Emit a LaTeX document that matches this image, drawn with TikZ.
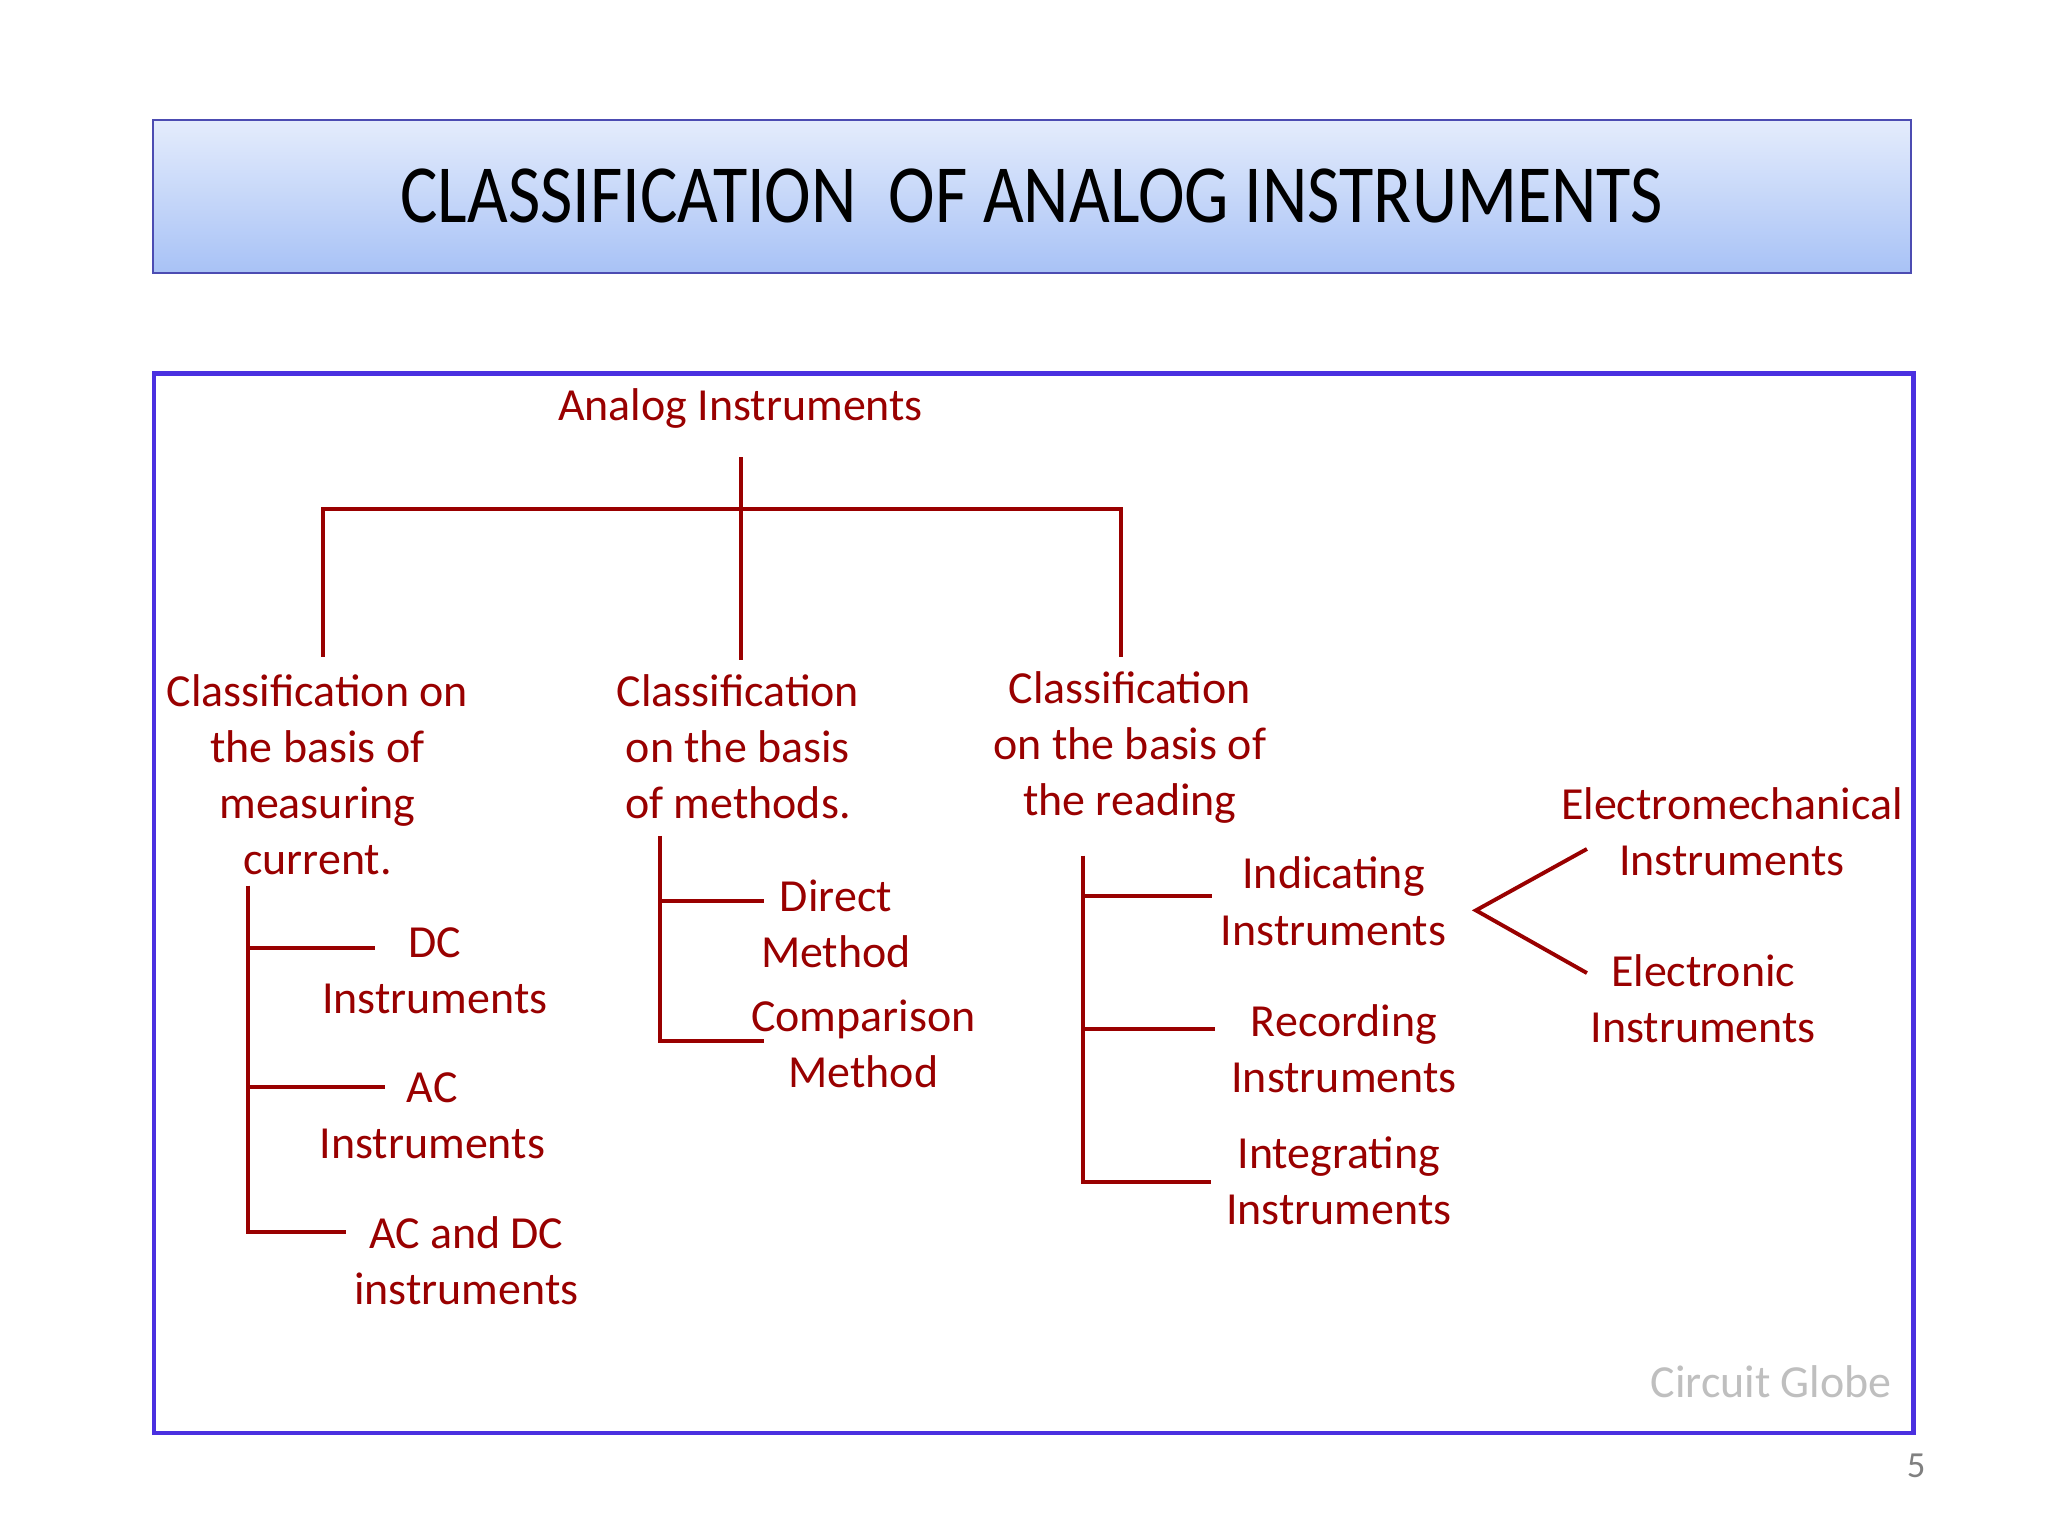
\documentclass[tikz,border=0pt]{standalone}
\usepackage{fontspec}
\setmainfont{Carlito}
\definecolor{tb}{HTML}{A8C2F6}
\definecolor{tt}{HTML}{E4ECFC}
\definecolor{fr}{HTML}{4A30E0}
\begin{document}
\begin{tikzpicture}[x=0.01cm,y=-0.01cm,
  ln/.style={draw=red!60!black, line width=0.85pt},
  lb/.style={text=red!60!black, font=\fontsize{10}{12.2}\selectfont, align=center, inner sep=1pt}]
\useasboundingbox (0,0) rectangle (1568,1176);
\fill[white] (0,0) rectangle (1568,1176);
\shade[top color=tt, bottom color=tb] (117,92) rectangle (1463,209);
\draw[blue!40!gray, line width=0.5pt] (117,92) rectangle (1463,209);
\node[xscale=0.85] (title) at (790,150) {\fontsize{18}{20}\selectfont CLASSIFICATION\ \ OF ANALOG INSTRUMENTS};
\draw[fr, line width=0.9pt] (118,286) rectangle (1465,1097);
% root
\node[lb] (root) at (567,313) {Analog Instruments};
\coordinate (j) at (567,390);
\node[lb] (c1) at (243,593) {Classification on\\the basis of\\measuring\\current.};
\node[lb] (c2) at (565,572) {Classification\\on the basis\\of methods.};
\node[lb] (c3) at (865,572) {Classification\\on the basis of\\the reading};
\draw[ln] (567,350) -- (j);
\draw[ln] (247,503) |- (858,390) -- (858,503);
\draw[ln] (j) -- (567,505);
% col1
\node[lb] (dc) at (333,743) {DC\\Instruments};
\node[lb] (ac) at (331,854) {AC\\Instruments};
\node[lb] (acdc) at (357,965) {AC and DC\\instruments};
\draw[ln] (190,678) -- (190,943) -- (265,943);
\draw[ln] (190,726) -- (287,726);
\draw[ln] (190,832) -- (295,832);
% col2
\node[lb] (dm) at (640,707) {Direct\\Method};
\node[lb] (cm) at (661,799) {Comparison\\Method};
\draw[ln] (505,640) -- (505,797) -- (585,797);
\draw[ln] (505,690) -- (585,690);
% col3
\node[lb] (ind) at (1021,690) {Indicating\\Instruments};
\node[lb] (rec) at (1029,803) {Recording\\Instruments};
\node[lb] (int) at (1025,904) {Integrating\\Instruments};
\draw[ln] (829,655) -- (829,905) -- (927,905);
\draw[ln] (829,686) -- (928,686);
\draw[ln] (829,788) -- (930,788);
% fork
\node[lb] (em) at (1326,637) {Electromechanical\\Instruments};
\node[lb] (el) at (1304,765) {Electronic\\Instruments};
\coordinate (f) at (1130,697);
\draw[ln] (1215,650) -- (f) -- (1215,745);
\node[text=gray!50, font=\fontsize{10}{12}\selectfont] (cg) at (1356,1058) {Circuit Globe};
\node[text=gray, font=\fontsize{8}{10}\selectfont] (pg) at (1467,1122) {5};
\end{tikzpicture}
\end{document}
